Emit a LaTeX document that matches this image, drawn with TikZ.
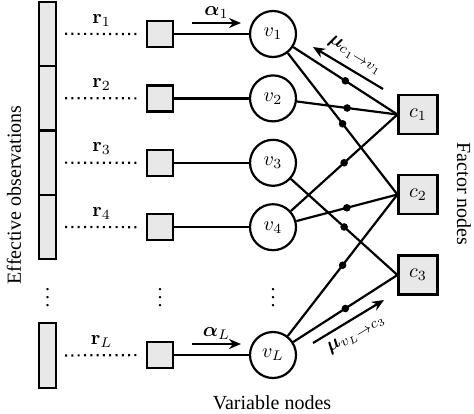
\documentclass[tikz,border=0pt]{standalone}
\usepackage{amsmath}
\usepackage{bm}
\usepackage[no-math]{fontspec}
\setmainfont{Liberation Serif}
\usepackage{tikz}
\usetikzlibrary{arrows.meta,calc}

\begin{document}
\begin{tikzpicture}[x=0.5pt,y=-0.5pt,line width=1.1pt,
  obsbox/.style={draw,fill=gray!18,minimum width=8.5pt,minimum height=32.2pt,inner sep=0pt},
  srcbox/.style={draw,fill=gray!18,minimum size=13pt,inner sep=0pt},
  varnode/.style={draw,circle,minimum size=23pt,inner sep=0pt},
  facnode/.style={draw,fill=gray!18,minimum size=19.5pt,inner sep=0pt},
  obsline/.style={dash pattern=on 1pt off 2.15pt,shorten <=4pt,shorten >=3pt},
  msgdot/.style={circle,fill=black,minimum size=3.8pt,inner sep=0pt},
  msgarrow/.style={-{Stealth[length=6pt,width=5pt]}}]
\useasboundingbox (0,0) rectangle (474,413);

% Effective observations
\node[obsbox] (o1) at (47.5,33.8) {};
\node[obsbox] (o2) at (47.5,98.2) {};
\node[obsbox] (o3) at (47.5,162.6) {};
\node[obsbox] (o4) at (47.5,227) {};
\node[obsbox,minimum height=32.5pt] (oL) at (47.5,355.5) {};
\node (od) at (47.5,292) {$\vdots$};

% Sources
\node[srcbox] (s1) at (160,34) {};
\node[srcbox] (s2) at (160,98.4) {};
\node[srcbox] (s3) at (160,162.8) {};
\node[srcbox] (s4) at (160,227.2) {};
\node[srcbox] (sL) at (160,355) {};
\node (sd) at (160,292) {$\vdots$};

% Variable nodes
\node[varnode] (v1) at (273,34) {$v_1$};
\node[varnode] (v2) at (273,98.4) {$v_2$};
\node[varnode] (v3) at (273,162.8) {$v_3$};
\node[varnode] (v4) at (273,227.2) {$v_4$};
\node[varnode] (vL) at (273,355) {$v_L$};
\node (vd) at (273,292) {$\vdots$};

% Factor nodes
\node[facnode] (c1) at (418,114.5) {$c_1$};
\node[facnode] (c2) at (418,194.5) {$c_2$};
\node[facnode] (c3) at (418,275) {$c_3$};

% Observations to variables
\draw[obsline] (o1) -- node[above] {$\mathbf{r}_1$} (s1);
\draw[obsline] (o2) -- node[above] {$\mathbf{r}_2$} (s2);
\draw[obsline] (o3) -- node[above] {$\mathbf{r}_3$} (s3);
\draw[obsline] (o4) -- node[above] {$\mathbf{r}_4$} (s4);
\draw[obsline] (oL) -- node[above] {$\mathbf{r}_L$} (sL);
\draw (s1) -- (v1);
\draw (s2) -- (v2);
\draw (s3) -- (v3);
\draw (s4) -- (v4);
\draw (sL) -- (vL);

% Edges of the factor graph
\draw (v1) -- node[msgdot] (d11) {} (c1.west);
\draw (v1) -- node[msgdot] (d12) {} (c2.west);
\draw (v2) -- node[msgdot] (d21) {} (c1.west);
\draw (v3) -- node[msgdot] (d33) {} (c3.west);
\draw (v4) -- node[msgdot] (d41) {} (c1.west);
\draw (v4) -- node[msgdot] (d42) {} (c2.west);
\draw (vL) -- node[msgdot] (dL2) {} (c2.west);
\draw (vL) -- node[msgdot] (dL3) {} (c3.west);

% Messages
\coordinate (a1s) at (192,23);
\coordinate (a1e) at (241,23);
\draw[msgarrow] (a1s) -- node[above,inner sep=1.5pt] {$\bm{\alpha}_1$} (a1e);
\coordinate (aLs) at (192,344);
\coordinate (aLe) at (241,344);
\draw[msgarrow] (aLs) -- node[above,inner sep=1.5pt] {$\bm{\alpha}_L$} (aLe);
\coordinate (m1s) at (383,89);
\coordinate (m1e) at (313,47);
\draw[msgarrow] (m1s) -- (m1e);
\path (m1e) -- node[sloped,above] {$\bm{\mu}_{c_1\to v_1}$} (m1s);
\coordinate (mLs) at (313,343);
\coordinate (mLe) at (384,300);
\draw[msgarrow] (mLs) -- node[sloped,below] {$\bm{\mu}_{v_L\to c_3}$} (mLe);

% Captions
\node[rotate=90] (tobs) at (14,195) {Effective observations};
\node[rotate=-90] (tfac) at (464,194) {Factor nodes};
\node (tvar) at (272,403) {Variable nodes};
\end{tikzpicture}
\end{document}
